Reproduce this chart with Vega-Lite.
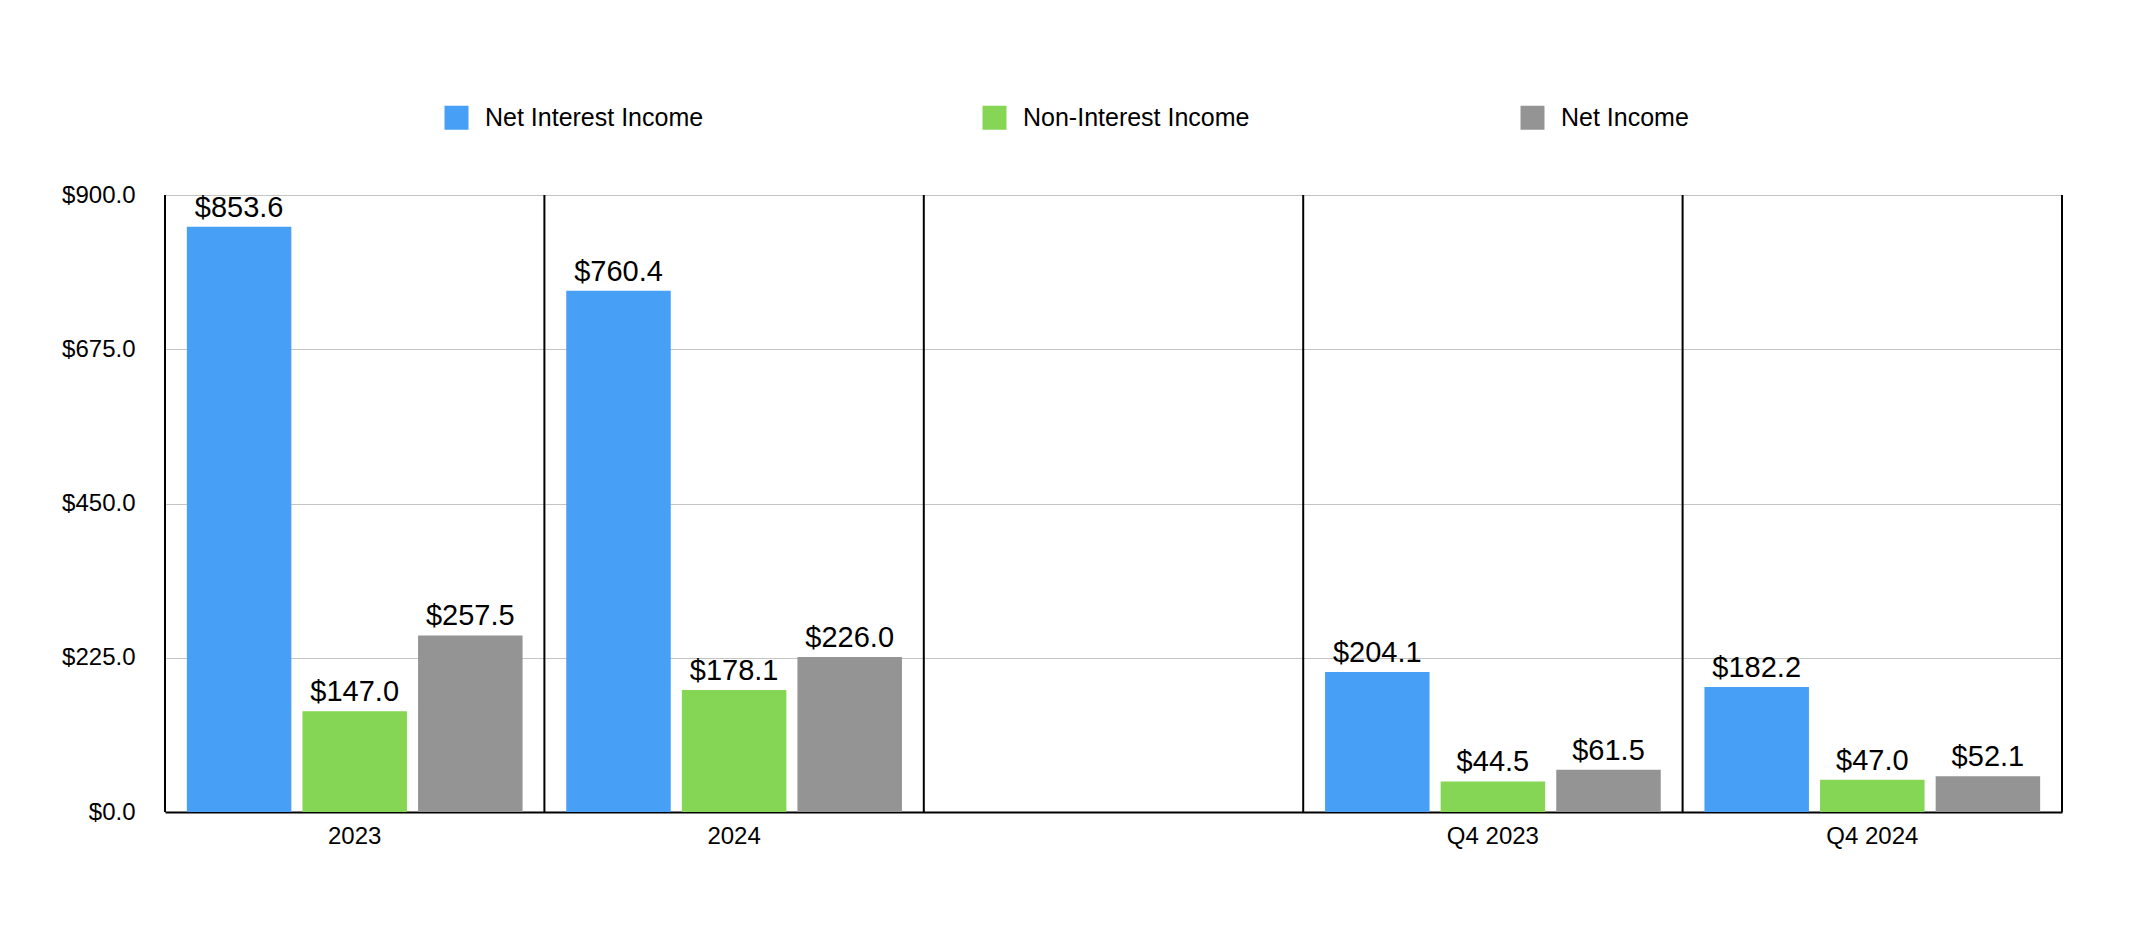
{
  "$schema": "https://vega.github.io/schema/vega-lite/v6.json",
  "autosize": {"type": "none"},
  "padding": {"left": 165, "top": 195, "right": 94, "bottom": 132},
  "width": 1897,
  "height": 617,
  "background": "white",
  "datasets": {
    "bars": [
      {"period": "2023", "series": "Net Interest Income", "value": 853.6},
      {"period": "2023", "series": "Non-Interest Income", "value": 147.0},
      {"period": "2023", "series": "Net Income", "value": 257.5},
      {"period": "2024", "series": "Net Interest Income", "value": 760.4},
      {"period": "2024", "series": "Non-Interest Income", "value": 178.1},
      {"period": "2024", "series": "Net Income", "value": 226.0},
      {"period": "Q4 2023", "series": "Net Interest Income", "value": 204.1},
      {"period": "Q4 2023", "series": "Non-Interest Income", "value": 44.5},
      {"period": "Q4 2023", "series": "Net Income", "value": 61.5},
      {"period": "Q4 2024", "series": "Net Interest Income", "value": 182.2},
      {"period": "Q4 2024", "series": "Non-Interest Income", "value": 47.0},
      {"period": "Q4 2024", "series": "Net Income", "value": 52.1}
    ],
    "dividers": [
      {"period": "2023"},
      {"period": "2024"},
      {"period": " "},
      {"period": "Q4 2023"},
      {"period": "Q4 2024"}
    ],
    "rightEdge": [
      {"period": "Q4 2024"}
    ]
  },
  "config": {
    "font": "Liberation Sans",
    "view": {"stroke": null},
    "axis": {"labelColor": "black", "ticks": false, "title": null}
  },
  "encoding": {
    "x": {
      "field": "period",
      "type": "nominal",
      "sort": null,
      "scale": {"domain": ["2023", "2024", " ", "Q4 2023", "Q4 2024"], "paddingInner": 0, "paddingOuter": 0}
    }
  },
  "layer": [
    {
      "data": {"name": "bars"},
      "mark": {"type": "bar"},
      "encoding": {
        "x": {
          "field": "period",
          "type": "nominal",
          "sort": null,
          "axis": {"labelAngle": 0, "labelFontSize": 24, "labelPadding": 12, "domainColor": "black", "domainWidth": 2, "grid": false}
        },
        "xOffset": {
          "field": "series",
          "type": "nominal",
          "sort": ["Net Interest Income", "Non-Interest Income", "Net Income"],
          "scale": {"paddingInner": 0.096, "paddingOuter": 0.189}
        },
        "y": {
          "field": "value",
          "type": "quantitative",
          "scale": {"domain": [0, 900], "nice": false},
          "axis": {
            "values": [0, 225, 450, 675, 900],
            "format": "$.1f",
            "labelFontSize": 24,
            "labelPadding": 30,
            "domain": false,
            "gridColor": "#c4c4c4",
            "gridWidth": 1
          }
        },
        "color": {
          "field": "series",
          "type": "nominal",
          "scale": {
            "domain": ["Net Interest Income", "Non-Interest Income", "Net Income"],
            "range": ["#489ff6", "#84d654", "#949494"]
          },
          "legend": {
            "title": null,
            "orient": "none",
            "direction": "horizontal",
            "legendX": 279,
            "legendY": -90,
            "columns": 3,
            "gridAlign": "all",
            "columnPadding": 270,
            "padding": 0,
            "symbolType": "square",
            "symbolSize": 576,
            "symbolStrokeWidth": 0,
            "labelFontSize": 25,
            "labelOffset": 16,
            "labelColor": "black",
            "labelLimit": 400
          }
        }
      }
    },
    {
      "data": {"name": "bars"},
      "mark": {"type": "text", "baseline": "alphabetic", "dy": -10, "fontSize": 29, "color": "black"},
      "encoding": {
        "xOffset": {
          "field": "series",
          "type": "nominal",
          "sort": ["Net Interest Income", "Non-Interest Income", "Net Income"]
        },
        "y": {"field": "value", "type": "quantitative"},
        "text": {"field": "value", "type": "quantitative", "format": "$.1f"}
      }
    },
    {
      "data": {"name": "dividers"},
      "mark": {"type": "rule", "color": "black", "strokeWidth": 2},
      "encoding": {
        "x": {"field": "period", "type": "nominal", "bandPosition": 0}
      }
    },
    {
      "data": {"name": "rightEdge"},
      "mark": {"type": "rule", "color": "black", "strokeWidth": 2},
      "encoding": {
        "x": {"field": "period", "type": "nominal", "bandPosition": 1}
      }
    }
  ]
}
